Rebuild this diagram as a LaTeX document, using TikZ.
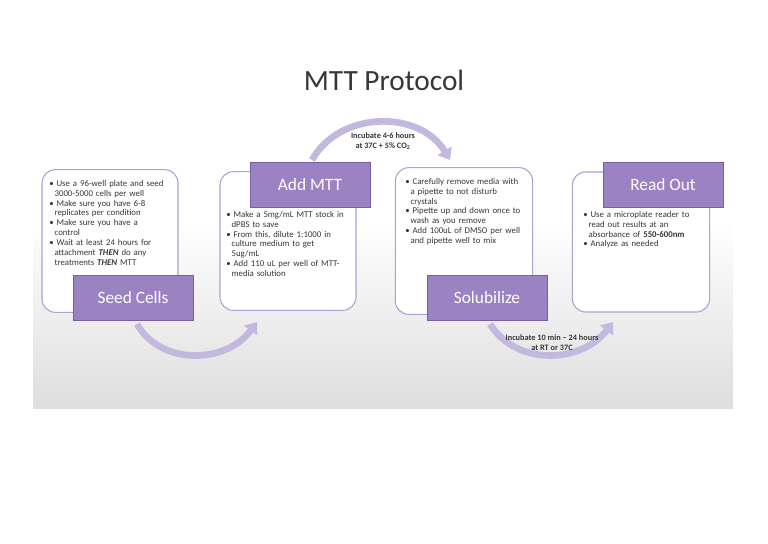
\documentclass[tikz,border=0pt]{standalone}
\usepackage{fontspec}
\setmainfont{Carlito}
\usetikzlibrary{arrows.meta}
\definecolor{pur}{RGB}{155,130,195}
\definecolor{purd}{RGB}{120,95,165}
\definecolor{arc}{RGB}{195,185,222}
\definecolor{bord}{RGB}{175,160,210}
\definecolor{ink}{RGB}{55,55,55}
\begin{document}
\begin{tikzpicture}[x=0.75pt,y=-0.75pt,
  box/.style={draw=bord,line width=0.8pt,fill=white,rounded corners=10pt},
  lab/.style={draw=purd,line width=0.6pt,fill=pur,text=white,font=\fontsize{13}{13}\selectfont,minimum width=90pt,minimum height=34pt,inner sep=0pt},
  txt/.style={anchor=north west,text=ink,font=\fontsize{6.6}{7.4}\selectfont,align=left,text width=92pt,inner sep=0pt},
  arw/.style={draw=arc,line width=5pt,-{Triangle[length=8pt,width=12pt]}},
  captxt/.style={text=ink,font=\bfseries\fontsize{6.2}{7.4}\selectfont,align=center}]
\useasboundingbox (0,0) rectangle (768,543);
\shade[top color=white,bottom color=black!13,middle color=white] (33,33) rectangle (733,408);
\node[text=ink] (title) at (384,80) {\fontsize{22}{22}\selectfont MTT Protocol};
% boxes
\node[box,minimum width=102pt,minimum height=107pt,inner sep=0pt] (b1) at (110,241) {};
\node[box,minimum width=102pt,minimum height=104pt,inner sep=0pt] (b2) at (288,241) {};
\node[box,minimum width=103pt,minimum height=110pt,inner sep=0pt] (b3) at (464,241) {};
\node[box,minimum width=103pt,minimum height=105pt,inner sep=0pt] (b4) at (641,242) {};
\node[txt] (t1) at (49,180) {• Use a 96-well plate and seed\\\hspace*{4pt}3000-5000 cells per well\\• Make sure you have 6-8\\\hspace*{4pt}replicates per condition\\• Make sure you have a\\\hspace*{4pt}control\\• Wait at least 24 hours for\\\hspace*{4pt}attachment \textbf{\textit{THEN}} do any\\\hspace*{4pt}treatments \textbf{\textit{THEN}} MTT};
\node[txt] (t2) at (226,211) {• Make a 5mg/mL MTT stock in\\\hspace*{4pt}dPBS to save\\• From this, dilute 1:1000 in\\\hspace*{4pt}culture medium to get\\\hspace*{4pt}5ug/mL\\• Add 110 uL per well of MTT-\\\hspace*{4pt}media solution};
\node[txt] (t3) at (405,178) {• Carefully remove media with\\\hspace*{4pt}a pipette to not disturb\\\hspace*{4pt}crystals\\• Pipette up and down once to\\\hspace*{4pt}wash as you remove\\• Add 100uL of DMSO per well\\\hspace*{4pt}and pipette well to mix};
\node[txt] (t4) at (583,211) {• Use a microplate reader to\\\hspace*{4pt}read out results at an\\\hspace*{4pt}absorbance of \textbf{550-600nm}\\• Analyze as needed};
\node[lab] (l1) at (133,298) {Seed Cells};
\node[lab] (l2) at (310,185) {Add MTT};
\node[lab] (l3) at (487,298) {Solubilize};
\node[lab] (l4) at (663,185) {Read Out};
% arrows
\coordinate (a1s) at (137,324); \coordinate (a1e) at (257,322);
\draw[arw] (a1s) .. controls (160,365) and (225,365) .. (a1e);
\coordinate (a2s) at (312,160); \coordinate (a2e) at (450,160);
\draw[arw] (a2s) .. controls (340,110) and (420,110) .. (a2e);
\coordinate (a3s) at (490,324); \coordinate (a3e) at (613,322);
\draw[arw] (a3s) .. controls (515,365) and (580,365) .. (a3e);
\node[captxt] (c2) at (383,141) {Incubate 4-6 hours\\at 37C + 5\% CO\textsubscript{2}};
\node[captxt] (c3) at (552,343) {Incubate 10 min -- 24 hours\\at RT or 37C};
\end{tikzpicture}
\end{document}
